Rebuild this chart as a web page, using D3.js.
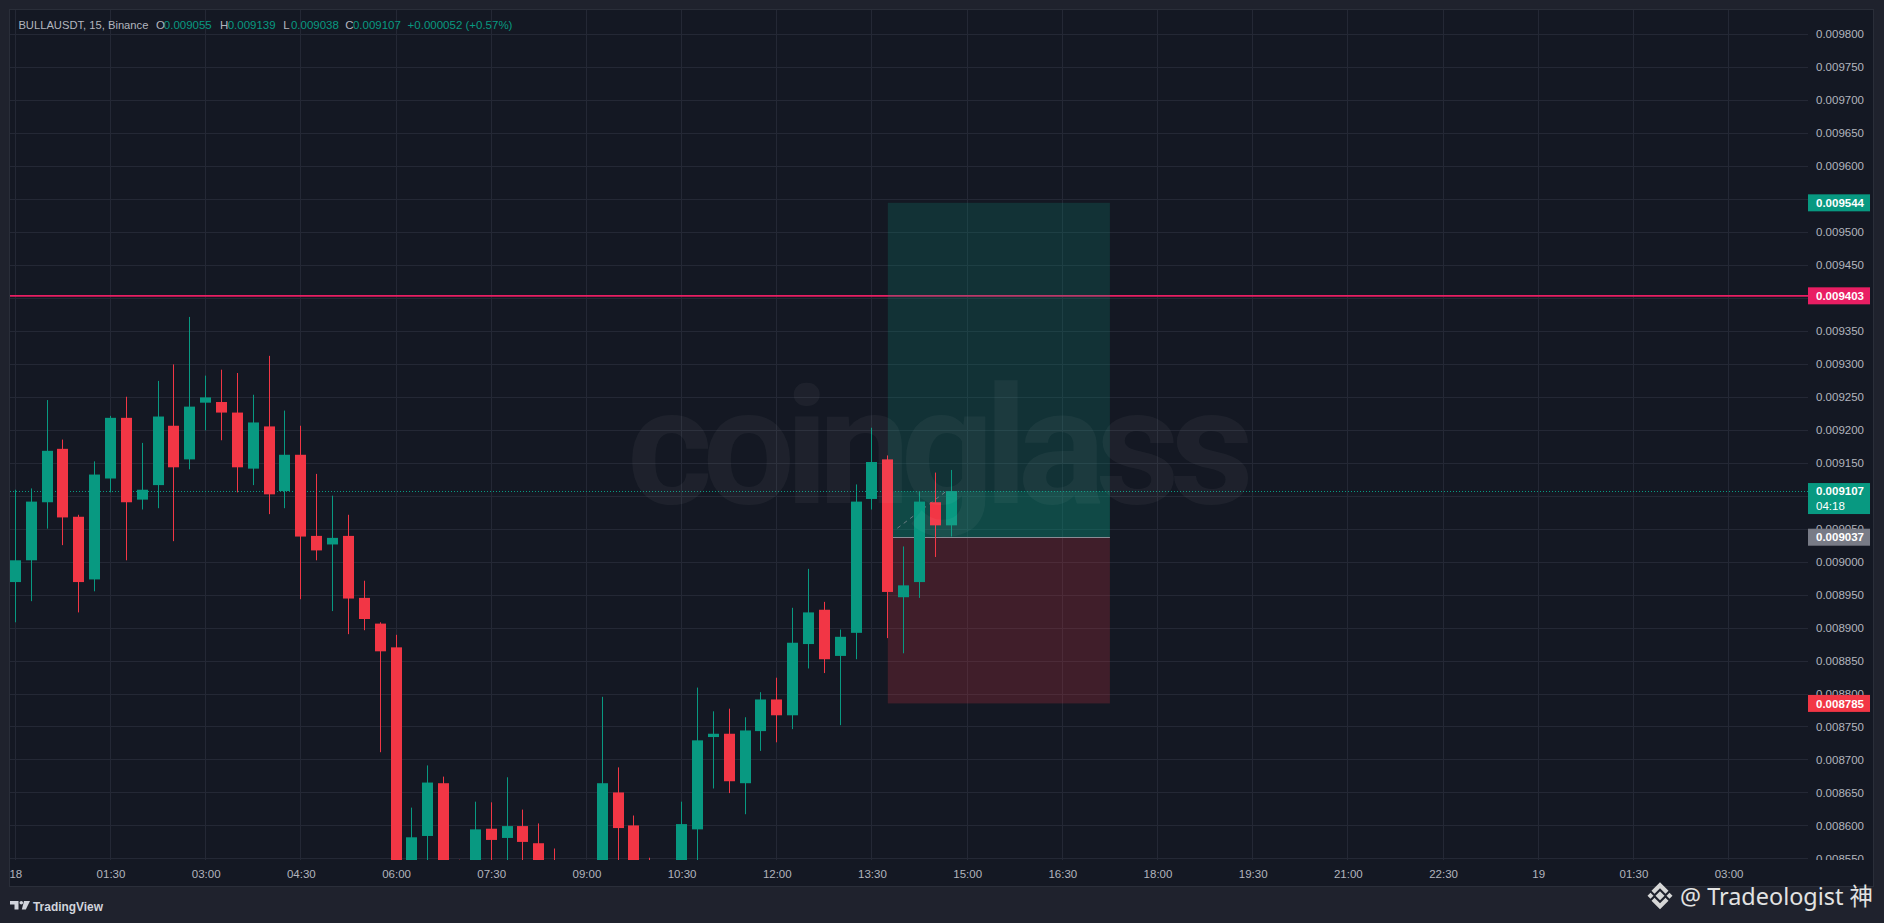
<!DOCTYPE html>
<html>
<head>
<meta charset="utf-8">
<script src="https://cdn.jsdelivr.net/npm/d3@7"></script>
<style>
html,body{margin:0;padding:0;background:#1f222d;overflow:hidden;}
svg{display:block;}
</style>
</head>
<body>
<svg id="chart" width="1884" height="923"></svg>
<script>
// ---------------- DATA ----------------
const symbolTitle = "BULLAUSDT, 15, Binance";
// 15-minute candles, index 0 = 18th 00:00
const opens  = [0.008969,0.009002,0.009090,0.009171,0.009068,0.008973,0.009126,0.009218,0.009094,0.009116,
                0.009206,0.009155,0.009241,0.009242,0.009226,0.009141,0.009205,0.009107,0.009162,0.009039,
                0.009026,0.009039,0.008945,0.008906,0.008870,0.008530,0.008584,0.008664,0.008535,0.008522,
                0.008595,0.008581,0.008599,0.008573,0.008530,0.008510,0.008525,0.008535,0.008650,0.008600,
                0.008540,0.008515,0.008530,0.008594,0.008734,0.008739,0.008664,0.008743,0.008791,0.008767,
                0.008875,0.008927,0.008857,0.008892,0.009095,0.009155,0.008946,0.008969,0.009090,0.009055];
const highs  = [0.009109,0.009111,0.009245,0.009185,0.009071,0.009152,0.009221,0.009250,0.009180,0.009274,
                0.009299,0.009371,0.009282,0.009291,0.009286,0.009253,0.009312,0.009229,0.009206,0.009133,
                0.009100,0.009071,0.008971,0.008908,0.008889,0.008627,0.008691,0.008674,0.008548,0.008636,
                0.008635,0.008673,0.008624,0.008603,0.008565,0.008540,0.008545,0.008795,0.008688,0.008615,
                0.008551,0.008545,0.008636,0.008809,0.008773,0.008777,0.008764,0.008802,0.008824,0.008930,
                0.008989,0.008939,0.008897,0.009117,0.009203,0.009161,0.009023,0.009107,0.009135,0.009139];
const lows   = [0.008908,0.008940,0.009050,0.009025,0.008923,0.008955,0.009105,0.009002,0.009079,0.009081,
                0.009031,0.009140,0.009199,0.009184,0.009105,0.009116,0.009072,0.009081,0.008943,0.009002,
                0.008925,0.008890,0.008896,0.008711,0.008505,0.008512,0.008540,0.008520,0.008490,0.008510,
                0.008530,0.008540,0.008540,0.008515,0.008495,0.008480,0.008500,0.008520,0.008530,0.008525,
                0.008500,0.008490,0.008520,0.008540,0.008656,0.008649,0.008617,0.008713,0.008726,0.008746,
                0.008838,0.008831,0.008752,0.008852,0.009079,0.008884,0.008861,0.008945,0.009007,0.009038];
const closes = [0.009002,0.009091,0.009168,0.009067,0.008969,0.009132,0.009218,0.009090,0.009109,0.009220,
                0.009143,0.009235,0.009249,0.009226,0.009143,0.009211,0.009102,0.009162,0.009038,0.009017,
                0.009036,0.008944,0.008913,0.008864,0.008530,0.008582,0.008665,0.008535,0.008520,0.008594,
                0.008578,0.008599,0.008575,0.008530,0.008510,0.008525,0.008535,0.008664,0.008596,0.008540,
                0.008515,0.008530,0.008602,0.008729,0.008739,0.008667,0.008744,0.008791,0.008767,0.008877,
                0.008923,0.008852,0.008886,0.009091,0.009151,0.008954,0.008964,0.009091,0.009055,0.009107];

const priceTicks = [0.00855,0.0086,0.00865,0.0087,0.00875,0.0088,0.00885,0.0089,0.00895,0.009,
                    0.00905,0.0091,0.00915,0.0092,0.00925,0.0093,0.00935,0.0094,0.00945,0.0095,
                    0.00955,0.0096,0.00965,0.0097,0.00975,0.0098];
const timeTickIndex  = [0,6,12,18,24,30,36,42,48,54,60,66,72,78,84,90,96,102,108];
const timeTickLabels = ["18","01:30","03:00","04:30","06:00","07:30","09:00","10:30","12:00","13:30",
                        "15:00","16:30","18:00","19:30","21:00","22:30","19","01:30","03:00"];

const alertPrice   = 0.009403;
const entryPrice   = 0.009037;
const targetPrice  = 0.009544;
const stopPrice    = 0.008785;
const positionFrom = 55;   // candle index
const positionTo   = 69;   // candle index
const countdown    = "04:18";
const watermarkText = "coinglass";
const footerBrand   = "TradingView";
const authorText    = "@ Tradeologist 神";

// ---------------- LAYOUT ----------------
const plotL = 10, plotR = 1808, plotT = 10, plotB = 860;
const UP = "#089981", DOWN = "#f23645", TXT = "#b2b5be";
const FONT = "'Liberation Sans', Arial, sans-serif";

const svg = d3.select("#chart");
const x = d3.scaleLinear().domain([0,108]).range([15.3, 1728.6]);
const y = d3.scaleLinear().domain([0.00855,0.0098]).range([858.4,34]);

const defs = svg.append("defs");
defs.append("clipPath").attr("id","clipPlot").append("rect")
  .attr("x",plotL).attr("y",plotT).attr("width",plotR-plotL).attr("height",plotB-plotT);
defs.append("clipPath").attr("id","clipPriceAxis").append("rect")
  .attr("x",plotR).attr("y",plotT).attr("width",70).attr("height",plotB-plotT);
defs.append("clipPath").attr("id","clipTimeAxis").append("rect")
  .attr("x",plotL).attr("y",plotB).attr("width",plotR-plotL).attr("height",27);

// panel
svg.append("rect").attr("x",9.5).attr("y",9.5).attr("width",1864).attr("height",877)
  .attr("fill","#141823").attr("stroke","#2a2e39");

const plot = svg.append("g").attr("clip-path","url(#clipPlot)");

// grid
plot.append("g").selectAll("line").data(priceTicks).join("line")
  .attr("x1",plotL).attr("x2",plotR)
  .attr("y1",d=>Math.round(y(d))+0.5).attr("y2",d=>Math.round(y(d))+0.5)
  .attr("stroke","#242835").attr("stroke-width",1);
plot.append("g").selectAll("line").data(timeTickIndex).join("line")
  .attr("y1",plotT).attr("y2",plotB)
  .attr("x1",d=>Math.floor(x(d))+0.5).attr("x2",d=>Math.floor(x(d))+0.5)
  .attr("stroke","#242835").attr("stroke-width",1);

// alert line
plot.append("line").attr("x1",plotL).attr("x2",plotR)
  .attr("y1",y(alertPrice)).attr("y2",y(alertPrice))
  .attr("stroke","#e91e63").attr("stroke-width",1.6);

// position tool
const lastIdx = closes.length-1;
const lastClose = closes[lastIdx];
const px0 = x(positionFrom), px1 = x(positionTo);
plot.append("rect").attr("x",px0).attr("width",px1-px0)
  .attr("y",y(targetPrice)).attr("height",y(entryPrice)-y(targetPrice))
  .attr("fill","rgba(8,153,129,0.2)");
plot.append("rect").attr("x",px0).attr("width",px1-px0)
  .attr("y",y(entryPrice)).attr("height",y(stopPrice)-y(entryPrice))
  .attr("fill","rgba(242,54,69,0.2)");
plot.append("rect").attr("x",px0).attr("width",px1-px0)
  .attr("y",y(lastClose)).attr("height",y(entryPrice)-y(lastClose))
  .attr("fill","rgba(8,153,129,0.22)");
plot.append("line").attr("x1",px0).attr("x2",px1)
  .attr("y1",Math.round(y(entryPrice))+0.5).attr("y2",Math.round(y(entryPrice))+0.5)
  .attr("stroke","#8a8d96").attr("stroke-width",1);
plot.append("line").attr("x1",x(positionFrom+0.6)).attr("y1",y(entryPrice)-9)
  .attr("x2",x(lastIdx-0.3)).attr("y2",y(lastClose))
  .attr("stroke","#8f929b").attr("stroke-width",1).attr("stroke-dasharray","4,4").attr("opacity",0.7);

// current price dotted line
plot.append("line").attr("x1",plotL).attr("x2",plotR)
  .attr("y1",Math.round(y(lastClose))+0.5).attr("y2",Math.round(y(lastClose))+0.5)
  .attr("stroke",UP).attr("stroke-width",1).attr("stroke-dasharray","1,2");

// candles
const candles = opens.map((o,i)=>({i,o,h:highs[i],l:lows[i],c:closes[i]}));
const cg = plot.append("g").selectAll("g").data(candles).join("g");
cg.append("line")
  .attr("x1",d=>Math.floor(x(d.i))+0.5).attr("x2",d=>Math.floor(x(d.i))+0.5)
  .attr("y1",d=>y(d.h)).attr("y2",d=>y(d.l))
  .attr("stroke",d=>d.c>=d.o?UP:DOWN).attr("stroke-width",1);
cg.append("rect")
  .attr("x",d=>Math.floor(x(d.i))-5).attr("width",11)
  .attr("y",d=>y(Math.max(d.o,d.c)))
  .attr("height",d=>Math.max(1,Math.abs(y(d.o)-y(d.c))))
  .attr("fill",d=>d.c>=d.o?UP:DOWN);

// watermark
plot.append("text").text(watermarkText)
  .attr("x",627).attr("y",502.7)
  .attr("textLength",627).attr("lengthAdjust","spacing")
  .attr("font-family","Roboto, 'Open Sans', sans-serif").attr("font-weight",700)
  .attr("font-size",164).attr("fill","#ffffff").attr("fill-opacity",0.045);

// marker boxes (top/bottom extents) — used to hide fully covered axis labels
const fmt = d3.format(".6f");
const markers = [
  {p:targetPrice, bg:UP, top:-8.5, h:17},
  {p:alertPrice, bg:"#e91e63", top:-8.5, h:17},
  {p:entryPrice, bg:"#787b86", top:-8.5, h:17},
  {p:stopPrice, bg:DOWN, top:-8.5, h:17},
  {p:lastClose, bg:UP, top:-8, h:31, sub:countdown}
];
const covered = d => markers.some(m=>{
  const t = y(m.p)+m.top, b = t+m.h, yy = y(d);
  return yy > t+5 && yy < b-5;
});

// price axis
const yAxis = d3.axisRight(y).tickValues(priceTicks.filter(d=>!covered(d)))
  .tickFormat(fmt).tickSize(0).tickPadding(8);
const ya = svg.append("g").attr("clip-path","url(#clipPriceAxis)")
  .append("g").attr("transform",`translate(${plotR},0)`).call(yAxis);
ya.select(".domain").remove();
ya.selectAll("text").attr("fill",TXT).attr("font-size",11.5).attr("font-family",FONT);

// time axis
const xAxis = d3.axisBottom(x).tickValues(timeTickIndex).tickFormat((d,i)=>timeTickLabels[i])
  .tickSize(0).tickPadding(10);
const xa = svg.append("g").attr("clip-path","url(#clipTimeAxis)")
  .append("g").attr("transform",`translate(0,${plotB})`).call(xAxis);
xa.select(".domain").remove();
xa.selectAll("text").attr("fill",TXT).attr("font-size",11.5).attr("font-family",FONT);

// price markers
const mg = svg.append("g");
markers.forEach(m=>{
  const cy = y(m.p);
  mg.append("rect").attr("x",plotR).attr("y",cy+m.top).attr("width",62).attr("height",m.h).attr("fill",m.bg);
  mg.append("text").text(fmt(m.p)).attr("x",1816).attr("y",cy+4.2)
    .attr("fill","#ffffff").attr("font-size",11.5).attr("font-weight",700).attr("font-family",FONT);
  if (m.sub) {
    mg.append("text").text(m.sub).attr("x",1816).attr("y",cy+18.5)
      .attr("fill","#ffffff").attr("font-size",11.5).attr("font-family",FONT);
  }
});

// header legend
const o = opens[lastIdx], h = highs[lastIdx], l = lows[lastIdx], c = closes[lastIdx];
const chg = c - closes[lastIdx-1];
const pct = chg / closes[lastIdx-1] * 100;
const hg = svg.append("g").attr("font-family",FONT).attr("font-size",11.5);
hg.append("text").text(symbolTitle).attr("x",18.4).attr("y",29).attr("fill",TXT)
  .attr("textLength",130).attr("lengthAdjust","spacingAndGlyphs");
const seg = [["O",156.1,o],["H",220,h],["L",283.2,l],["C",345.2,c]];
seg.forEach(([k,xx,v])=>{
  hg.append("text").text(k).attr("x",xx).attr("y",29).attr("fill",TXT);
  hg.append("text").text(fmt(v)).attr("x",xx+7.7).attr("y",29).attr("fill",UP);
});
hg.append("text").text(`${chg>=0?"+":""}${fmt(chg)} (${pct>=0?"+":""}${pct.toFixed(2)}%)`)
  .attr("x",407.6).attr("y",29).attr("fill",UP);

// footer: TradingView logo
const fg = svg.append("g").attr("fill","#d1d4dc");
fg.append("path").attr("d","M10,901 h8.5 v8.5 h-4 v-5 h-4.5 z");
fg.append("circle").attr("cx",21.3).attr("cy",902.8).attr("r",1.8);
fg.append("path").attr("d","M24,901 h6 l-4.2,8.5 h-4 z");
fg.append("text").text(footerBrand).attr("x",33).attr("y",910.5)
  .attr("font-family",FONT).attr("font-size",13).attr("font-weight",600)
  .attr("textLength",70).attr("lengthAdjust","spacingAndGlyphs");

// author watermark with binance logo
const bg = svg.append("g").attr("transform","translate(1660,895.7)").attr("fill","#d6d6d6");
bg.append("path").attr("d","M0,-4.5 L4.5,0 L0,4.5 L-4.5,0 Z");
bg.append("path").attr("d","M-9.5,-3 L-6.5,0 L-9.5,3 L-12.5,0 Z");
bg.append("path").attr("d","M9.5,-3 L12.5,0 L9.5,3 L6.5,0 Z");
bg.append("path").attr("d","M0,-13.5 L8.5,-5 L5.5,-2 L0,-7.5 L-5.5,-2 L-8.5,-5 Z");
bg.append("path").attr("d","M0,13.5 L8.5,5 L5.5,2 L0,7.5 L-5.5,2 L-8.5,5 Z");
svg.append("text").text(authorText).attr("x",1680).attr("y",904.5)
  .attr("font-family","'Noto Sans','Noto Sans CJK SC',sans-serif").attr("font-size",24)
  .attr("fill","#e2e2e2").attr("textLength",193).attr("lengthAdjust","spacingAndGlyphs");
</script>
</body>
</html>
